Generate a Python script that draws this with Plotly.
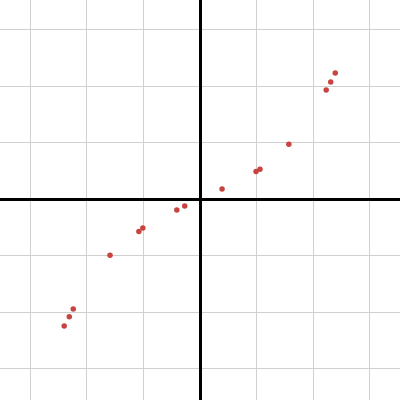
import plotly.graph_objects as go

x_vals = [2.39, 2.31, 2.23, 1.57, 1.06, 0.99, 0.39, -0.27, -0.41, -1.01, -1.08, -1.59, -2.24, -2.31, -2.40]
y_vals = [2.23, 2.07, 1.93, 0.97, 0.53, 0.49, 0.18, -0.12, -0.19, -0.51, -0.57, -0.99, -1.94, -2.08, -2.24]

fig = go.Figure()
fig.add_trace(go.Scatter(x=x_vals, y=y_vals, mode='markers',
                         marker=dict(color='#c74440', size=5.5)))

axis_style = dict(showticklabels=False, dtick=1, gridcolor='#d0d0d0', gridwidth=1,
                  zeroline=True, zerolinecolor='black', zerolinewidth=2.5,
                  showline=False, ticks='')
fig.update_xaxes(range=[-3.534, 3.534], **axis_style)
fig.update_yaxes(range=[-3.55, 3.52], **axis_style)
fig.update_layout(width=400, height=400, margin=dict(l=0, r=0, t=0, b=0),
                  plot_bgcolor='white', paper_bgcolor='white', showlegend=False)

# drop the page's default body margin so the plot fills the window
fig.write_html("out.html", config={'displayModeBar': False},
               post_script="document.body.style.margin='0';")
